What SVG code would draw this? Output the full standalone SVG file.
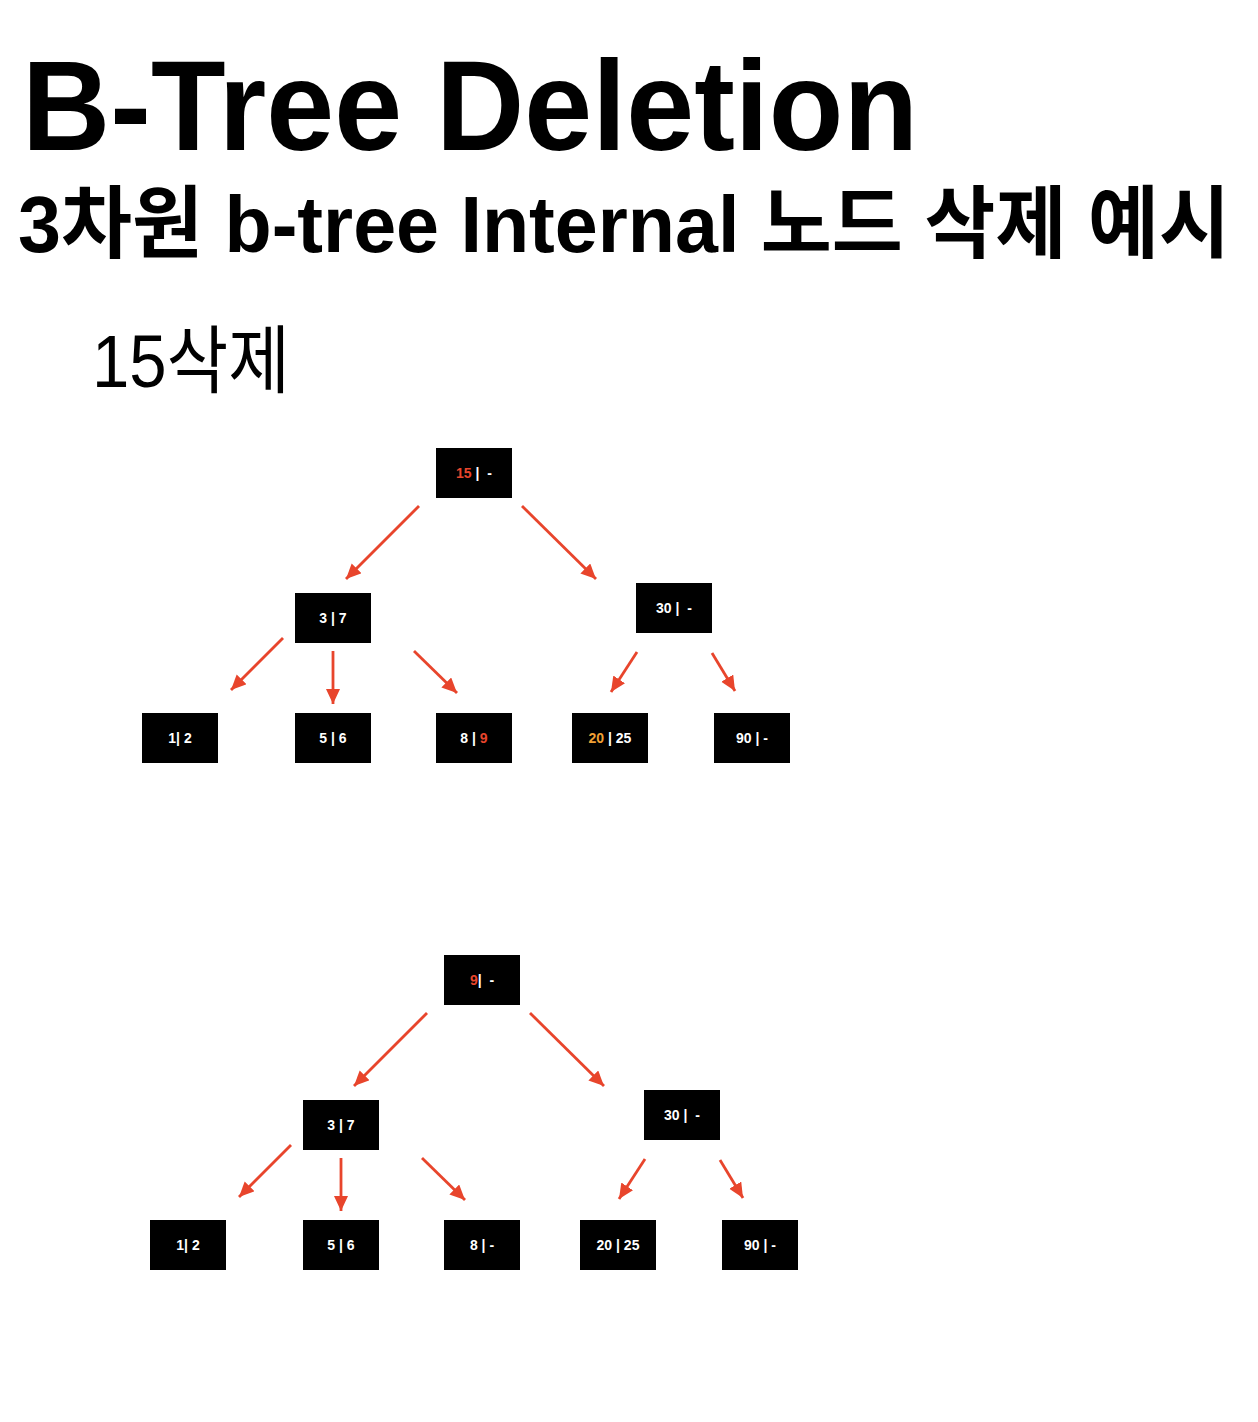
<svg xmlns="http://www.w3.org/2000/svg" width="1258" height="1422" viewBox="0 0 1258 1422">
<style>
  .title{font-family:"Liberation Sans","Noto Sans CJK KR",sans-serif;font-weight:bold;fill:#000}
  .box{fill:#000}
  .lbl{font-family:"Liberation Sans","Noto Sans CJK KR",sans-serif;font-weight:bold;font-size:14px;fill:#fff;text-anchor:middle;white-space:pre}
  .red{fill:#E8452C}
  .org{fill:#F0A035}
  .edge{stroke:#E8452C;stroke-width:2.8;fill:none;marker-end:url(#ah)}
</style>
<defs>
  <marker id="ah" markerUnits="userSpaceOnUse" markerWidth="18" markerHeight="16" refX="15" refY="7" orient="auto">
    <path d="M0,0 L15,7 L0,14 Z" fill="#E8452C"/>
  </marker>
</defs>
<rect width="1258" height="1422" fill="#fff"/>
<text class="title" x="22" y="150" font-size="128" textLength="896" lengthAdjust="spacingAndGlyphs">B-Tree Deletion</text>
<text class="title" x="18" y="252" font-size="79" textLength="1212" lengthAdjust="spacingAndGlyphs">3차원 b-tree Internal 노드 삭제 예시</text>
<text x="92" y="387" font-family="Liberation Sans,'Noto Sans CJK KR',sans-serif" font-size="74" fill="#000" textLength="198" lengthAdjust="spacingAndGlyphs">15삭제</text>

<g id="connectors">
  <line class="edge" x1="419" y1="506" x2="346" y2="579"/>
  <line class="edge" x1="522" y1="506" x2="596" y2="579"/>
  <line class="edge" x1="283" y1="638" x2="231" y2="690"/>
  <line class="edge" x1="333" y1="651" x2="333" y2="704"/>
  <line class="edge" x1="414" y1="651" x2="457" y2="693"/>
  <line class="edge" x1="637" y1="652" x2="611" y2="692"/>
  <line class="edge" x1="712" y1="653" x2="735" y2="691"/>

  <line class="edge" x1="427" y1="1013" x2="354" y2="1086"/>
  <line class="edge" x1="530" y1="1013" x2="604" y2="1086"/>
  <line class="edge" x1="291" y1="1145" x2="239" y2="1197"/>
  <line class="edge" x1="341" y1="1158" x2="341" y2="1211"/>
  <line class="edge" x1="422" y1="1158" x2="465" y2="1200"/>
  <line class="edge" x1="645" y1="1159" x2="619" y2="1199"/>
  <line class="edge" x1="720" y1="1160" x2="743" y2="1198"/>
</g>

<g id="t1-root"><rect class="box" x="436" y="448" width="76" height="50"/><text class="lbl" x="474" y="478" xml:space="preserve"><tspan class="red">15</tspan> |  -</text></g>
<g id="t1-37"><rect class="box" x="295" y="593" width="76" height="50"/><text class="lbl" x="333" y="623">3 | 7</text></g>
<g id="t1-30"><rect class="box" x="636" y="583" width="76" height="50"/><text class="lbl" x="674" y="613" xml:space="preserve">30 |  -</text></g>
<g id="t1-12"><rect class="box" x="142" y="713" width="76" height="50"/><text class="lbl" x="180" y="743">1| 2</text></g>
<g id="t1-56"><rect class="box" x="295" y="713" width="76" height="50"/><text class="lbl" x="333" y="743">5 | 6</text></g>
<g id="t1-89"><rect class="box" x="436" y="713" width="76" height="50"/><text class="lbl" x="474" y="743" xml:space="preserve">8 | <tspan class="red">9</tspan></text></g>
<g id="t1-2025"><rect class="box" x="572" y="713" width="76" height="50"/><text class="lbl" x="610" y="743" xml:space="preserve"><tspan class="org">20</tspan> | 25</text></g>
<g id="t1-90"><rect class="box" x="714" y="713" width="76" height="50"/><text class="lbl" x="752" y="743">90 | -</text></g>

<g id="t2-root"><rect class="box" x="444" y="955" width="76" height="50"/><text class="lbl" x="482" y="985" xml:space="preserve"><tspan class="red">9</tspan>|  -</text></g>
<g id="t2-37"><rect class="box" x="303" y="1100" width="76" height="50"/><text class="lbl" x="341" y="1130">3 | 7</text></g>
<g id="t2-30"><rect class="box" x="644" y="1090" width="76" height="50"/><text class="lbl" x="682" y="1120" xml:space="preserve">30 |  -</text></g>
<g id="t2-12"><rect class="box" x="150" y="1220" width="76" height="50"/><text class="lbl" x="188" y="1250">1| 2</text></g>
<g id="t2-56"><rect class="box" x="303" y="1220" width="76" height="50"/><text class="lbl" x="341" y="1250">5 | 6</text></g>
<g id="t2-8"><rect class="box" x="444" y="1220" width="76" height="50"/><text class="lbl" x="482" y="1250">8 | -</text></g>
<g id="t2-2025"><rect class="box" x="580" y="1220" width="76" height="50"/><text class="lbl" x="618" y="1250">20 | 25</text></g>
<g id="t2-90"><rect class="box" x="722" y="1220" width="76" height="50"/><text class="lbl" x="760" y="1250">90 | -</text></g>
</svg>
